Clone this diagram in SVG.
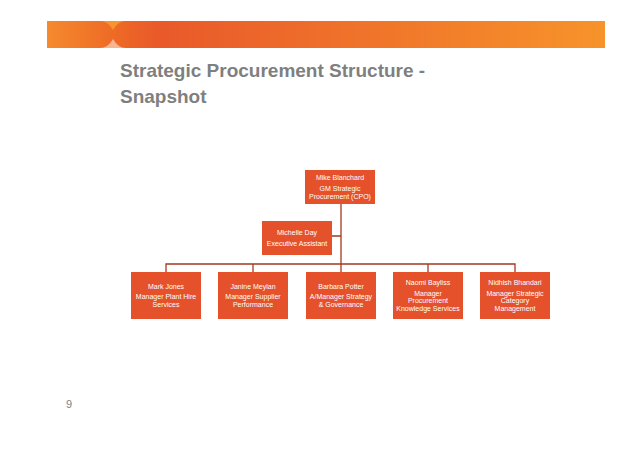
<svg xmlns="http://www.w3.org/2000/svg" width="638" height="451" viewBox="0 0 638 451">
<defs>
<linearGradient id="g" x1="0" x2="1" y1="0" y2="0">
<stop offset="0" stop-color="#F58A2E"/><stop offset="0.12" stop-color="#EE6A25"/><stop offset="0.2" stop-color="#E9592A"/><stop offset="1" stop-color="#F7932A"/>
</linearGradient>
<style>
.b{fill:#E4512B}
.t{font-family:"Liberation Sans",Arial,sans-serif;font-size:7px;fill:#fff;text-anchor:middle}
.c{stroke:#A33A1E;stroke-width:1.3;fill:none}
</style>
</defs>
<rect width="638" height="451" fill="#fff"/>
<rect x="47" y="21" width="558" height="27" fill="url(#g)"/>
<path d="M100 21 Q108 21 113 30 Q118 21 126 21 Z" fill="#F7A030" opacity="0.8"/>
<path d="M100 48 Q108 48 113 39 Q118 48 126 48 Z" fill="#fff" opacity="0.5"/>
<text x="120" y="77" font-family="Liberation Sans,Arial,sans-serif" font-size="19" font-weight="bold" fill="#7F7F7F">Strategic Procurement Structure -</text>
<text x="120" y="103" font-family="Liberation Sans,Arial,sans-serif" font-size="19" font-weight="bold" fill="#7F7F7F">Snapshot</text>
<text x="66" y="408" font-family="Liberation Sans,Arial,sans-serif" font-size="11" fill="#7F7F7F">9</text>
<g id="connectors">
<path class="c" d="M341 204V264M332 236H341M166 272V264H515V272M253 264V272M341 264V272M428 264V272"/>
</g>
<g id="n0"><rect class="b" x="305" y="170" width="70" height="34"/><text class="t" x="340" y="180">Mike Blanchard</text><text class="t" x="340" y="191">GM Strategic</text><text class="t" x="340" y="199">Procurement (CPO)</text></g>
<g id="n1"><rect class="b" x="262" y="221" width="70" height="34"/><text class="t" x="297" y="235">Michelle Day</text><text class="t" x="297" y="246">Executive Assistant</text></g>
<g id="n2"><rect class="b" x="131" y="272" width="70" height="47"/><text class="t" x="166" y="289">Mark Jones</text><text class="t" x="166" y="299">Manager Plant Hire</text><text class="t" x="166" y="307">Services</text></g>
<g id="n3"><rect class="b" x="218" y="272" width="70" height="47"/><text class="t" x="253" y="289">Janine Meylan</text><text class="t" x="253" y="299">Manager Supplier</text><text class="t" x="253" y="307">Performance</text></g>
<g id="n4"><rect class="b" x="306" y="272" width="70" height="47"/><text class="t" x="341" y="289">Barbara Potter</text><text class="t" x="341" y="299">A/Manager Strategy</text><text class="t" x="341" y="307">&amp; Governance</text></g>
<g id="n5"><rect class="b" x="393" y="272" width="70" height="47"/><text class="t" x="428" y="285">Naomi Bayliss</text><text class="t" x="428" y="296">Manager</text><text class="t" x="428" y="303">Procurement</text><text class="t" x="428" y="311">Knowledge Services</text></g>
<g id="n6"><rect class="b" x="480" y="272" width="70" height="47"/><text class="t" x="515" y="285">Nidhish Bhandari</text><text class="t" x="515" y="296">Manager Strategic</text><text class="t" x="515" y="303">Category</text><text class="t" x="515" y="311">Management</text></g>
</svg>
